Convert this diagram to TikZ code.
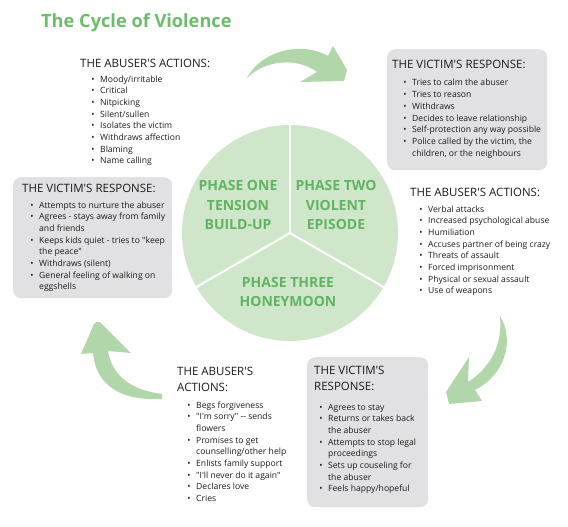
\documentclass[tikz,border=0pt]{standalone}
\usepackage{fontspec}
\setmainfont{Open Sans}
\definecolor{titlegreen}{HTML}{6BBD6B}
\definecolor{phasegreen}{HTML}{62B362}
\definecolor{piefill}{HTML}{CFE6CB}
\definecolor{arrowgreen}{HTML}{B0D6A9}
\definecolor{boxgray}{HTML}{E1E1E3}
\definecolor{txt}{HTML}{1A1A1A}
\newcommand\ap{\textquotesingle}
\newcommand\qt{\textquotedbl}
\newcommand\lst[1]{\parbox[t]{200pt}{\fontsize{8.6}{11.7}\selectfont\raggedright #1}}
\newcommand\hd[1]{\parbox[t]{200pt}{\fontsize{11.5}{16}\selectfont\raggedright #1}}
\newcommand\itm{\leavevmode\llap{\textbullet\hspace{5.5pt}}}
\tikzset{
  boxst/.style={fill=boxgray, rounded corners=8pt, inner sep=0pt, anchor=north west},
  headst/.style={anchor=base west, inner sep=0pt, text=txt},
  listst/.style={anchor=base west, inner sep=0pt, text=txt},
  phasest/.style={text=phasegreen, font=\bfseries\fontsize{14}{19.5}\selectfont, align=center, inner sep=0pt},
  arrowst/.style={fill=arrowgreen, draw=none},
  divider/.style={draw=white, line width=2pt}
}
\begin{document}
\begin{tikzpicture}[x=1pt,y=-1pt]
\useasboundingbox (0,0) rectangle (568,527);

% title
\node[anchor=base west, inner sep=0pt, text=titlegreen, font=\bfseries\fontsize{18.2}{22}\selectfont] (title) at (41,28) {The Cycle of Violence};

% gray boxes
\node[boxst, minimum width=160pt, minimum height=121pt] (boxTR) at (387,49) {};
\node[boxst, minimum width=159pt, minimum height=121pt] (boxL) at (13,177) {};
\node[boxst, minimum width=121pt, minimum height=150pt] (boxBR) at (307,357) {};

% pie
\coordinate (c) at (290,233);
\coordinate (top) at (290,125);
\coordinate (bl) at (196.5,287);
\coordinate (br) at (383.5,287);
\fill[piefill] (c) circle[radius=108pt];
\draw[divider] (c) -- (top);
\draw[divider] (c) -- (bl);
\draw[divider] (c) -- (br);

\node[phasest] (p1) at (238,205) {PHASE ONE\\TENSION\\BUILD-UP};
\node[phasest] (p2) at (336,205) {PHASE TWO\\VIOLENT\\EPISODE};
\node[phasest] (p3) at (288,292) {PHASE THREE\\HONEYMOON};

% arrows
\path[arrowst] (247,78) .. controls (260,52) and (300,40) .. (328,56) -- (333,46) -- (347,70) -- (344,81) -- (300,82) -- (317,72) .. controls (297,57) and (265,60) .. (247,78) -- cycle;
\path[arrowst] (500,316) .. controls (515,340) and (505,375) .. (475,390) -- (482,401) -- (449,404) -- (446,392) -- (469,357) -- (468,382) .. controls (490,368) and (503,345) .. (500,316) -- cycle;
\path[arrowst] (162,399) .. controls (120,401) and (96,385) .. (93,353) -- (81,354) -- (94,324) .. controls (96,321) and (100,321) .. (102,324) -- (131,353) -- (108,351) .. controls (112,375) and (130,390) .. (162,394) -- cycle;

% top-left abuser actions
\node[headst] (h1) at (80,68) {\hd{THE ABUSER\ap S ACTIONS:}};
\node[listst] (l1) at (100,82) {\lst{\itm Moody/irritable\\\itm Critical\\\itm Nitpicking\\\itm Silent/sullen\\\itm Isolates the victim\\\itm Withdraws affection\\\itm Blaming\\\itm Name calling}};

% top-right victim response
\node[headst] (h2) at (392,69) {\hd{THE VICTIM\ap S RESPONSE:}};
\node[listst] (l2) at (412,86) {\lst{\itm Tries to calm the abuser\\\itm Tries to reason\\\itm Withdraws\\\itm Decides to leave relationship\\\itm Self-protection any way possible\\\itm Police called by the victim, the\\children, or the neighbours}};

% left victim response
\node[headst] (h3) at (22,192) {\hd{THE VICTIM\ap S RESPONSE:}};
\node[listst] (l3) at (39,208) {\lst{\itm Attempts to nurture the abuser\\\itm Agrees - stays away from family\\and friends\\\itm Keeps kids quiet - tries to \qt keep\\the peace\qt\\\itm Withdraws (silent)\\\itm General feeling of walking on\\eggshells}};

% right abuser actions
\node[headst] (h4) at (410,196) {\hd{THE ABUSER\ap S ACTIONS:}};
\node[listst] (l4) at (428,212) {\lst{\itm Verbal attacks\\\itm Increased psychological abuse\\\itm Humiliation\\\itm Accuses partner of being crazy\\\itm Threats of assault\\\itm Forced imprisonment\\\itm Physical or sexual assault\\\itm Use of weapons}};

% bottom abuser actions
\node[headst] (h5) at (177,375) {\hd{THE ABUSER\ap S\\ACTIONS:}};
\node[listst] (l5) at (196,408) {\lst{\itm Begs forgiveness\\\itm \qt I\ap m sorry\qt{} -{}- sends\\flowers\\\itm Promises to get\\counselling/other help\\\itm Enlists family support\\\itm \qt I\ap ll never do it again\qt\\\itm Declares love\\\itm Cries}};

% bottom-right victim response
\node[headst] (h6) at (314,374) {\hd{THE VICTIM\ap S\\RESPONSE:}};
\node[listst] (l6) at (328,410) {\lst{\itm Agrees to stay\\\itm Returns or takes back\\the abuser\\\itm Attempts to stop legal\\proceedings\\\itm Sets up couseling for\\the abuser\\\itm Feels happy/hopeful}};
\end{tikzpicture}
\end{document}
